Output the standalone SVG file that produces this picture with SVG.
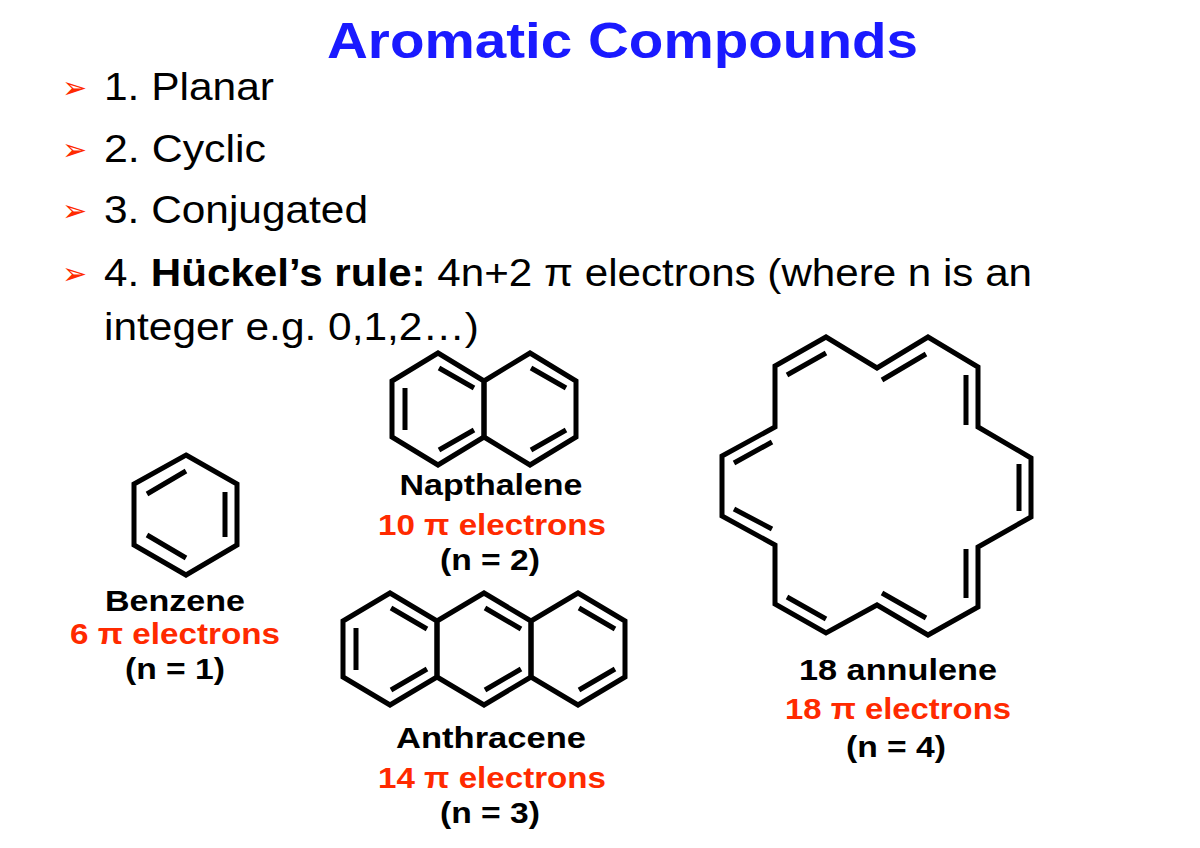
<svg xmlns="http://www.w3.org/2000/svg" width="1200" height="848" viewBox="0 0 1200 848">
<style>
.b{stroke:#000;stroke-width:5;fill:none;stroke-linejoin:miter;stroke-linecap:butt}
.t{font-family:"Liberation Sans",Arial,sans-serif;font-size:38px;fill:#000}
.l{font-family:"Liberation Sans",Arial,sans-serif;font-size:30px;font-weight:bold;text-anchor:middle}
.r{fill:#ff2a00}
.a{font-family:"DejaVu Sans",sans-serif;font-size:30px;fill:#ff2a00}
</style>
<rect width="1200" height="848" fill="#fff"/>
<text x="327" y="58" textLength="591" lengthAdjust="spacingAndGlyphs" font-family="Liberation Sans,Arial,sans-serif" font-size="50" font-weight="bold" fill="#1a1aff">Aromatic Compounds</text>
<g id="bullets">
<text class="a" x="62" y="98">➢</text><text class="t" x="104" y="100" textLength="170" lengthAdjust="spacingAndGlyphs">1. Planar</text>
<text class="a" x="62" y="160">➢</text><text class="t" x="104" y="162" textLength="162" lengthAdjust="spacingAndGlyphs">2. Cyclic</text>
<text class="a" x="62" y="221">➢</text><text class="t" x="104" y="223" textLength="264" lengthAdjust="spacingAndGlyphs">3. Conjugated</text>
<text class="a" x="62" y="284">➢</text><text class="t" x="104" y="286" textLength="928" lengthAdjust="spacingAndGlyphs">4. <tspan font-weight="bold">Hückel’s rule:</tspan> 4n+2 π electrons (where n is an</text>
<text class="t" x="104" y="340" textLength="375" lengthAdjust="spacingAndGlyphs">integer e.g. 0,1,2…)</text>
</g>
<g id="benzene">
<polygon class="b" points="186,455 237,484 237,545 186,575 134,545 134,484"/>
<path class="b" d="M147,494 L186,471 M225,492 L225,537 M147,535 L186,558"/>
<text class="l" x="175" y="611" textLength="140" lengthAdjust="spacingAndGlyphs">Benzene</text>
<text class="l r" x="175" y="644" textLength="210" lengthAdjust="spacingAndGlyphs">6 π electrons</text>
<text class="l" x="175" y="679" textLength="100" lengthAdjust="spacingAndGlyphs">(n = 1)</text>
</g>
<g id="napthalene">
<polygon class="b" points="438,353 484,381 484,437 438,465 392,437 392,381"/>
<polygon class="b" points="530,353 576,381 576,437 530,465 484,437 484,381"/>
<path class="b" d="M439,368 L474,388 M405,388 L405,430 M439,450 L474,430 M531,368 L566,388 M531,450 L566,430"/>
<text class="l" x="491" y="495" textLength="183" lengthAdjust="spacingAndGlyphs">Napthalene</text>
<text class="l r" x="492" y="535" textLength="228" lengthAdjust="spacingAndGlyphs">10 π electrons</text>
<text class="l" x="490" y="570" textLength="100" lengthAdjust="spacingAndGlyphs">(n = 2)</text>
</g>
<g id="anthracene">
<polygon class="b" points="390,593 437,621 437,677 390,705 343,677 343,621"/>
<polygon class="b" points="484,593 531,621 531,677 484,705 437,677 437,621"/>
<polygon class="b" points="578,593 625,621 625,677 578,705 531,677 531,621"/>
<path class="b" d="M391,608 L427,629 M356,628 L356,670 M391,690 L427,669 M485,608 L521,629 M485,690 L521,669 M579,608 L615,629 M579,690 L615,669"/>
<text class="l" x="491" y="748" textLength="190" lengthAdjust="spacingAndGlyphs">Anthracene</text>
<text class="l r" x="492" y="788" textLength="228" lengthAdjust="spacingAndGlyphs">14 π electrons</text>
<text class="l" x="490" y="823" textLength="100" lengthAdjust="spacingAndGlyphs">(n = 3)</text>
</g>
<g id="annulene">
<polygon class="b" points="826,337 877,368 928,337 978,367 978,427 1031,458 1031,517 978,547 978,607 928,635 877,605 826,633 775,604 775,545 722,516 722,456 775,427 775,366"/>
<path class="b" d="M787,375 L826,353 M882,380 L926,354 M966,375 L966,425 M1019,464 L1019,511 M966,549 L966,598 M882,593 L926,618 M787,597 L826,619 M734,509 L772,529 M734,463 L772,442"/>
<text class="l" x="898" y="680" textLength="198" lengthAdjust="spacingAndGlyphs">18 annulene</text>
<text class="l r" x="898" y="719" textLength="226" lengthAdjust="spacingAndGlyphs">18 π electrons</text>
<text class="l" x="896" y="757" textLength="100" lengthAdjust="spacingAndGlyphs">(n = 4)</text>
</g>
</svg>
